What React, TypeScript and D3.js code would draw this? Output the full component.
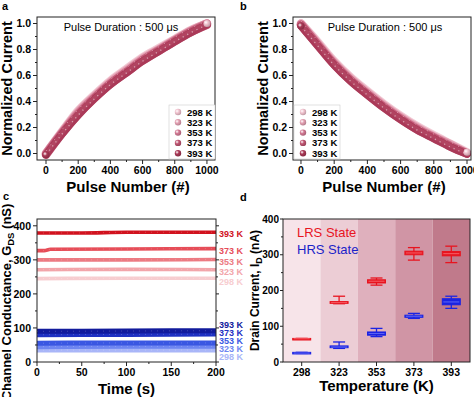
import React from "react";
import * as d3 from "d3";

const W = 474, H = 397;
const FONT = "Liberation Sans, Arial, sans-serif";

// ---------- Panel a / b data ----------
const temps = ["298 K", "323 K", "353 K", "373 K", "393 K"];
const tempColors = ["#f1c3cf", "#e3a0b2", "#d27993", "#c05572", "#a93856"];
const pulses = [0, 100, 200, 300, 400, 500, 600, 700, 800, 900, 1000];
const potA: number[][] = [
  [0.0, 0.17, 0.33, 0.45, 0.56, 0.65, 0.74, 0.81, 0.88, 0.95, 1.0],
  [0.0, 0.165, 0.32, 0.44, 0.55, 0.64, 0.73, 0.80, 0.875, 0.945, 1.0],
  [0.0, 0.16, 0.31, 0.43, 0.54, 0.63, 0.72, 0.795, 0.87, 0.94, 1.0],
  [-0.01, 0.155, 0.30, 0.425, 0.535, 0.625, 0.715, 0.79, 0.865, 0.935, 0.99],
  [-0.01, 0.15, 0.295, 0.42, 0.53, 0.62, 0.71, 0.785, 0.86, 0.93, 0.99],
];
const depB: number[][] = [
  [1.0, 0.86, 0.71, 0.585, 0.48, 0.38, 0.29, 0.21, 0.14, 0.075, 0.01],
  [1.0, 0.85, 0.70, 0.575, 0.47, 0.37, 0.28, 0.20, 0.13, 0.07, 0.0],
  [0.99, 0.84, 0.69, 0.565, 0.46, 0.36, 0.27, 0.19, 0.125, 0.06, 0.0],
  [0.99, 0.835, 0.685, 0.56, 0.455, 0.355, 0.265, 0.185, 0.12, 0.055, 0.0],
  [0.98, 0.83, 0.68, 0.555, 0.45, 0.35, 0.26, 0.18, 0.115, 0.05, -0.005],
];
const normTicks = [0, 0.2, 0.4, 0.6, 0.8, 1.0];
const pulseTicks = [0, 200, 400, 600, 800, 1000];

// ---------- Panel c data ----------
const cLabels = ["393 K", "373 K", "353 K", "323 K", "298 K"];
const lrsColors = ["#d1121e", "#e64d58", "#ec7a82", "#f2a5aa", "#f7cdd0"];
const hrsColors = ["#121b9c", "#1f31c2", "#3a57e2", "#6f86f1", "#a9b6f8"];
const lrsLines: [number, number][][] = [
  [[0, 379], [50, 379], [100, 381], [150, 381], [200, 381]],
  [[0, 327], [8, 327], [15, 331], [100, 332], [200, 333]],
  [[0, 300], [100, 300], [200, 301]],
  [[0, 271], [100, 272], [200, 271]],
  [[0, 245], [100, 246], [200, 246]],
];
const hrsLines: [number, number][][] = [
  [[0, 90], [100, 91], [200, 92]],
  [[0, 80], [100, 81], [200, 82]],
  [[0, 55], [100, 56], [200, 56]],
  [[0, 45], [100, 46], [200, 46]],
  [[0, 35], [100, 35], [200, 35]],
];
const lrsLabelPos = [376, 326, 295, 265, 236];
const hrsLabelPos = [110, 86, 62, 40, 16];
const timeTicks = [0, 50, 100, 150, 200];
const condTicks = [0, 100, 200, 300, 400];

// ---------- Panel d data ----------
const dCats = ["298", "323", "353", "373", "393"];
const bandColors = ["#f7e4e9", "#eccdd5", "#dfb0bd", "#d095a5", "#c07a8b"];
// [min, q1, median, q3, max]
const lrsBox: number[][] = [
  [64, 64, 65, 66, 66],
  [163, 164, 166, 169, 184],
  [215, 221, 226, 230, 235],
  [285, 300, 305, 310, 320],
  [278, 297, 303, 309, 324],
];
const hrsBox: number[][] = [
  [24, 24, 25, 27, 27],
  [38, 40, 42, 45, 56],
  [71, 75, 80, 84, 94],
  [122, 125, 128, 131, 136],
  [150, 160, 168, 177, 184],
];
const currTicks = [0, 100, 200, 300, 400];

const tickStyle: React.CSSProperties = { fontFamily: FONT, fontWeight: 700, fontSize: 10.5 };

function Gradients() {
  return (
    <defs>
      {tempColors.map((c, i) => (
        <radialGradient key={i} id={`sph${i}`} cx="35%" cy="35%" r="65%">
          <stop offset="0%" stopColor="#ffffff" />
          <stop offset="45%" stopColor={c} />
          <stop offset="100%" stopColor={d3.color(c)!.darker(0.6).toString()} />
        </radialGradient>
      ))}
    </defs>
  );
}

function ScatterPanel(props: {
  left: number; right: number; top: number; bottom: number; xDomain: [number, number];
  series: number[][]; legendX: number; title: string; titleX: number; ylabelX: number;
  letter: string; letterX: number;
}) {
  const { left, right, top, bottom, series } = props;
  const x = d3.scaleLinear().domain(props.xDomain).range([left, right]);
  const y = d3.scaleLinear().domain([-0.05, 1.05]).range([bottom, top]);
  const line = d3.line<number>().x((_, i) => x(pulses[i])).y((v) => y(v)).curve(d3.curveMonotoneX);
  const minorX = d3.range(100, 1000, 200);
  const minorY = d3.range(0.1, 1.0, 0.2);
  return (
    <g>
      <text x={props.letterX} y={10} style={{ fontFamily: FONT, fontWeight: 700, fontSize: 11 }}>{props.letter}</text>
      <clipPath id={`clip${props.letter}`}>
        <rect x={left} y={top} width={right - left} height={bottom - top} />
      </clipPath>
      <g clipPath={`url(#clip${props.letter})`}>
        {series.map((s, i) => (
          <path key={"b" + i} d={line(s)!} fill="none" stroke={tempColors[i]} strokeWidth={i === 4 ? 7.5 : 8.5}
            strokeLinecap="round" opacity={i === 4 ? 0.95 : 0.9} />
        ))}
        <path d={line(series[2])!} fill="none" stroke="#b64c67" strokeWidth={4} strokeLinecap="round" opacity={0.6} />
        <path d={line(series[4])!} fill="none" stroke="#ffffff" strokeWidth={1.3} strokeDasharray="1.2 4" opacity={0.5} />
        <path d={line(series[1])!} fill="none" stroke="#f3d3dc" strokeWidth={1} strokeDasharray="1 6" opacity={0.6} transform="translate(0,-2.5)" />
        <circle cx={x(pulses[0])} cy={y(series[4][0])} r={3.5} fill="url(#sph4)" />
        <circle cx={x(pulses[10])} cy={y(series[0][10])} r={3.5} fill="url(#sph0)" />
      </g>
      <rect x={left} y={top} width={right - left} height={bottom - top} fill="none" stroke="#222" strokeWidth={1} />
      {pulseTicks.map((t) => (
        <g key={t}>
          <line x1={x(t)} x2={x(t)} y1={bottom} y2={bottom + 4} stroke="#222" />
          <text x={x(t)} y={bottom + 14} textAnchor="middle" style={tickStyle}>{t}</text>
        </g>
      ))}
      {minorX.map((t) => <line key={t} x1={x(t)} x2={x(t)} y1={bottom} y2={bottom + 2} stroke="#222" />)}
      {normTicks.map((t) => (
        <g key={t}>
          <line x1={left - 4} x2={left} y1={y(t)} y2={y(t)} stroke="#222" />
          <text x={left - 6} y={y(t) + 3.8} textAnchor="end" style={tickStyle}>{t.toFixed(1)}</text>
        </g>
      ))}
      {minorY.map((t) => <line key={t} x1={left - 2} x2={left} y1={y(t)} y2={y(t)} stroke="#222" />)}
      <text x={props.titleX} y={31} textAnchor="middle" style={{ fontFamily: FONT, fontSize: 11 }}>{props.title}</text>
      <g>
        <rect x={props.legendX} y={105} width={46} height={54} fill="#ffffff" stroke="#cccccc" strokeWidth={0.6} />
        {temps.map((t, i) => (
          <g key={t}>
            <circle cx={props.legendX + 9} cy={112 + i * 10.3} r={3.2} fill={`url(#sph${i})`} />
            <text x={props.legendX + 18} y={115.5 + i * 10.3} style={{ fontFamily: FONT, fontWeight: 700, fontSize: 9.5 }}>{t}</text>
          </g>
        ))}
      </g>
      <text transform={`translate(${props.ylabelX},${(top + bottom) / 2}) rotate(-90)`} textAnchor="middle"
        style={{ fontFamily: FONT, fontWeight: 700, fontSize: 14.5 }}>Normalized Current</text>
      <text x={(left + right) / 2 + 2} y={192} textAnchor="middle" style={{ fontFamily: FONT, fontWeight: 700, fontSize: 15 }}>Pulse Number (#)</text>
    </g>
  );
}

function PanelC() {
  const left = 37, right = 216, top = 219, bottom = 362;
  const x = d3.scaleLinear().domain([0, 200]).range([left, right]);
  const y = d3.scaleLinear().domain([0, 420]).range([bottom, top]);
  const line = d3.line<[number, number]>().x((d) => x(d[0])).y((d) => y(d[1])).curve(d3.curveMonotoneX);
  const minorX = [25, 75, 125, 175];
  const minorY = [50, 150, 250, 350];
  const lblStyle: React.CSSProperties = { fontFamily: FONT, fontWeight: 700, fontSize: 9 };
  return (
    <g>
      <text x={3} y={200} style={{ fontFamily: FONT, fontWeight: 700, fontSize: 11 }}>c</text>
      {lrsLines.slice().reverse().map((s, k) => {
        const i = 4 - k;
        return (
          <g key={"l" + i}>
            <path d={line(s)!} fill="none" stroke={lrsColors[i]} strokeWidth={3.6} />
            <path d={line(s)!} fill="none" stroke="#ffffff" strokeWidth={0.6} strokeDasharray="1 5" opacity={0.35} />
          </g>
        );
      })}
      {hrsLines.slice().reverse().map((s, k) => {
        const i = 4 - k;
        return (
          <g key={"h" + i}>
            <path d={line(s)!} fill="none" stroke={hrsColors[i]} strokeWidth={5} />
            <path d={line(s)!} fill="none" stroke="#ffffff" strokeWidth={0.6} strokeDasharray="1 5" opacity={0.35} />
          </g>
        );
      })}
      <rect x={left} y={top} width={right - left} height={bottom - top} fill="none" stroke="#222" strokeWidth={1} />
      {timeTicks.map((t) => (
        <g key={t}>
          <line x1={x(t)} x2={x(t)} y1={bottom} y2={bottom + 4} stroke="#222" />
          <text x={x(t)} y={bottom + 14} textAnchor="middle" style={tickStyle}>{t}</text>
        </g>
      ))}
      {minorX.map((t) => <line key={t} x1={x(t)} x2={x(t)} y1={bottom} y2={bottom + 2} stroke="#222" />)}
      {condTicks.map((t) => (
        <g key={t}>
          <line x1={left - 4} x2={left} y1={y(t)} y2={y(t)} stroke="#222" />
          <line x1={right} x2={right + 3} y1={y(t)} y2={y(t)} stroke="#222" />
          <text x={left - 6} y={y(t) + 3.8} textAnchor="end" style={tickStyle}>{t}</text>
        </g>
      ))}
      {minorY.map((t) => (
        <g key={t}>
          <line x1={left - 2} x2={left} y1={y(t)} y2={y(t)} stroke="#222" />
          <line x1={right} x2={right + 2} y1={y(t)} y2={y(t)} stroke="#222" />
        </g>
      ))}
      {cLabels.map((l, i) => (
        <text key={"ll" + i} x={219} y={y(lrsLabelPos[i]) + 3.2} fill={lrsColors[i]} style={lblStyle}>{l}</text>
      ))}
      {cLabels.map((l, i) => (
        <text key={"hl" + i} x={219} y={y(hrsLabelPos[i]) + 3.2} fill={hrsColors[i]} style={lblStyle}>{l}</text>
      ))}
      <text transform={`translate(11,${302}) rotate(-90)`} textAnchor="middle" style={{ fontFamily: FONT, fontWeight: 700, fontSize: 13 }}>
        Channel Conductance, G<tspan dy={3} fontSize={9.5}>DS</tspan><tspan dy={-3}> (nS)</tspan>
      </text>
      <text x={(left + right) / 2} y={394} textAnchor="middle" style={{ fontFamily: FONT, fontWeight: 700, fontSize: 15 }}>Time (s)</text>
    </g>
  );
}

function BoxMark(props: { cx: number; y: d3.ScaleLinear<number, number>; v: number[]; color: string; light: string }) {
  const { cx, y, v, color } = props;
  const bw = 18, cw = 12;
  return (
    <g>
      <line x1={cx} x2={cx} y1={y(v[0])} y2={y(v[4])} stroke={color} strokeWidth={1.3} />
      <line x1={cx - cw / 2} x2={cx + cw / 2} y1={y(v[0])} y2={y(v[0])} stroke={color} strokeWidth={1.3} />
      <line x1={cx - cw / 2} x2={cx + cw / 2} y1={y(v[4])} y2={y(v[4])} stroke={color} strokeWidth={1.3} />
      <rect x={cx - bw / 2} y={y(v[3])} width={bw} height={Math.max(1.6, y(v[1]) - y(v[3]))} fill={color} stroke={color} strokeWidth={1} />
      <line x1={cx - bw / 2 + 1} x2={cx + bw / 2 - 1} y1={y(v[2])} y2={y(v[2])} stroke={props.light} strokeWidth={0.8} opacity={0.8} />
    </g>
  );
}

function PanelD() {
  const left = 283, right = 470, top = 219, bottom = 362;
  const x = d3.scaleBand<string>().domain(dCats).range([left, right]).padding(0);
  const y = d3.scaleLinear().domain([0, 400]).range([bottom, top]);
  const minorY = [50, 150, 250, 350];
  const dTick: React.CSSProperties = { fontFamily: FONT, fontWeight: 700, fontSize: 10 };
  return (
    <g>
      <text x={240} y={201} style={{ fontFamily: FONT, fontWeight: 700, fontSize: 11 }}>d</text>
      {dCats.map((c, i) => (
        <rect key={c} x={x(c)!} y={top} width={x.bandwidth()} height={bottom - top} fill={bandColors[i]} />
      ))}
      {dCats.map((c, i) => (
        <g key={"b" + c}>
          <BoxMark cx={x(c)! + x.bandwidth() / 2} y={y} v={lrsBox[i]} color="#e8141f" light="#ff8a90" />
          <BoxMark cx={x(c)! + x.bandwidth() / 2} y={y} v={hrsBox[i]} color="#1b23e3" light="#8a90ff" />
        </g>
      ))}
      <rect x={left} y={top} width={right - left} height={bottom - top} fill="none" stroke="#222" strokeWidth={1} />
      {dCats.map((c) => (
        <g key={"t" + c}>
          <line x1={x(c)! + x.bandwidth() / 2} x2={x(c)! + x.bandwidth() / 2} y1={bottom} y2={bottom + 4} stroke="#222" />
          <text x={x(c)! + x.bandwidth() / 2} y={bottom + 14} textAnchor="middle" style={tickStyle}>{c}</text>
        </g>
      ))}
      {currTicks.map((t) => (
        <g key={t}>
          <line x1={left - 3} x2={left} y1={y(t)} y2={y(t)} stroke="#222" />
          <text x={left - 4} y={y(t) + 3.6} textAnchor="end" style={dTick}>{t}</text>
        </g>
      ))}
      {minorY.map((t) => <line key={t} x1={left - 2} x2={left} y1={y(t)} y2={y(t)} stroke="#222" />)}
      <text x={297} y={237} fill="#e8141f" style={{ fontFamily: FONT, fontSize: 13 }}>LRS State</text>
      <text x={297} y={254} fill="#1b23c8" style={{ fontFamily: FONT, fontSize: 13 }}>HRS State</text>
      <text transform={`translate(259,${(top + bottom) / 2}) rotate(-90)`} textAnchor="middle" style={{ fontFamily: FONT, fontWeight: 700, fontSize: 12 }}>
        Drain Current, I<tspan dy={3} fontSize={9}>D</tspan><tspan dy={-3}> (nA)</tspan>
      </text>
      <text x={(left + right) / 2} y={391} textAnchor="middle" style={{ fontFamily: FONT, fontWeight: 700, fontSize: 15 }}>Temperature (K)</text>
    </g>
  );
}

export default function App() {
  return (
    <svg width={W} height={H} viewBox={`0 0 ${W} ${H}`} style={{ position: "absolute", left: 0, top: 0, background: "#fff" }}>
      <Gradients />
      <ScatterPanel left={37} right={215} top={17} bottom={160} xDomain={[-56, 1050]} series={potA}
        legendX={169} title="Pulse Duration : 500 μs" titleX={121} ylabelX={12} letter="a" letterX={2} />
      <ScatterPanel left={293} right={471} top={17} bottom={160} xDomain={[-48, 1024]} series={depB}
        legendX={294} title="Pulse Duration : 500 μs" titleX={385} ylabelX={268} letter="b" letterX={240} />
      <PanelC />
      <PanelD />
    </svg>
  );
}
